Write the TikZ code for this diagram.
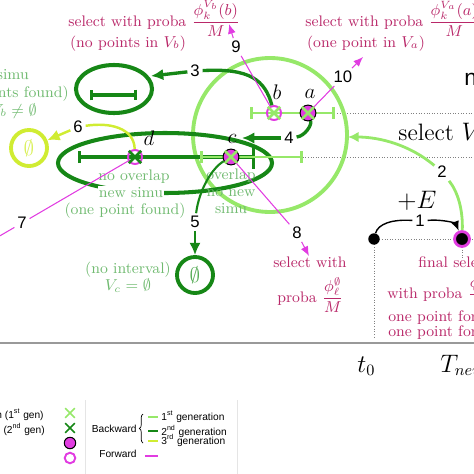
\documentclass[tikz,border=0pt]{standalone}
\usepackage{amsmath}
\usepackage{amssymb}
\usepackage{fontspec}
\newfontfamily\numfont{Liberation Sans}
\usetikzlibrary{arrows.meta,shapes.misc,decorations.pathreplacing}
\definecolor{fwd}{RGB}{225,60,225}
\definecolor{magtxt}{RGB}{185,40,105}
\definecolor{genone}{RGB}{150,232,105}
\definecolor{gentwo}{RGB}{22,135,22}
\definecolor{genthree}{RGB}{208,236,50}
\definecolor{greentxt}{RGB}{112,186,112}
\tikzset{
  gen1/.style={draw=genone,line width=1.7pt},
  gen2/.style={draw=gentwo,line width=1.9pt},
  gen3/.style={draw=genthree,line width=1.4pt},
  fwdline/.style={draw=fwd,line width=0.6pt},
  garrow/.style={>={Latex[length=7pt,width=6.5pt]},->},
  ivl/.style={arrows={Bar[width=#1]-Bar[width=#1]}},
  num/.style={font=\numfont\fontsize{9.5}{10}\selectfont,inner sep=1.5pt},
  mtext/.style={text=magtxt,font=\fontsize{8.7}{9.8}\selectfont,inner sep=0pt},
  gtext/.style={text=greentxt,font=\fontsize{8.7}{9.8}\selectfont,align=center,inner sep=0.5pt},
  ptlabel/.style={font=\fontsize{12}{14}\selectfont,inner sep=0pt},
  bigtext/.style={font=\fontsize{13.5}{16}\selectfont,inner sep=0pt,anchor=base west},
  openpt/.style={circle,draw=fwd,line width=1.1pt,minimum size=8pt,inner sep=0pt},
  fullpt/.style={circle,fill=fwd,draw=black,line width=0.6pt,minimum size=9pt,inner sep=0pt},
  xmark/.style={cross out,draw=#1,line width=1.6pt,minimum size=5.5pt,inner sep=0pt},
  nullbox/.style={circle,line width=2.2pt,minimum size=20.5pt,inner sep=0pt,font=\fontsize{13}{15}\selectfont},
  guide/.style={gray,densely dotted,line width=0.5pt},
  legend/.style={font=\numfont\fontsize{5.8}{6}\selectfont,inner sep=0pt}
}

\begin{document}
\begin{tikzpicture}[x=0.02cm,y=-0.02cm,>={Latex[length=5.5pt,width=4.5pt]}]
\useasboundingbox (0,0) rectangle (474,474);
\clip (0,0) rectangle (474,474);
\coordinate (vr) at (348,137);
\coordinate (e3) at (151,76);
\coordinate (e4) at (242,138);
\coordinate (e7) at (-40,259);
\coordinate (e8) at (309,256);
\coordinate (e9) at (229,24);
\coordinate (e10) at (363,57);

\draw[gray!80,line width=1.2pt] (0,343) -- (474,343);
\draw[guide] (300,113) -- (474,113);
\draw[guide] (300,157) -- (474,157);
\draw[guide] (374,239) -- (474,239);
\draw[guide] (374,239) -- (374,337);
\draw[guide] (462,239) -- (462,258);

\draw[gen1,line width=2.2pt] (270,135) circle (77);
\draw[gen2,line width=2.3pt] (114,89) ellipse (38 and 24);
\draw[gen2,line width=2.3pt] (165,163) ellipse (107 and 30);
\draw[gen2,ivl=6pt] (90,95) -- (137,95);
\draw[gen2,arrows={Bar[width=7pt]-Bar[width=14pt]}] (78,157) -- (255,157);
\draw[gen1,ivl=7pt] (200,157) -- (303,157);
\draw[gen1,ivl=7pt] (250,113) -- (335,113);

\node[gtext,anchor=base] (noov1) at (134,180) {no overlap};
\node[gtext,anchor=base,fill=white] (noov2) at (131,197) {new simu};
\node[gtext,anchor=base] (noov3) at (125,214) {(one point found)};
\node[gtext] (ov) at (231,191) {overlap\\no new\\simu};
\node[gtext,anchor=base east] (simub1) at (30,79) {simu};
\node[gtext,anchor=base east] (simub2) at (70,97) {(two points found)};
\node[gtext,anchor=base east] (simub3) at (38,115) {$V_b\neq\emptyset$};
\node[gtext] (noint) at (128,277) {(no interval)\\$V_c=\emptyset$};

\node[mtext,anchor=base west] (selb) at (68,26) {select with proba $\dfrac{\phi_k^{V_b}(b)}{M}$};
\node[mtext,anchor=base] (noptb) at (128,47) {(no points in $V_b$)};
\node[mtext,anchor=base west] (sela) at (305,26) {select with proba $\dfrac{\phi_k^{V_a}(a)}{M}$};
\node[mtext,anchor=base] (onepta) at (366,47) {(one point in $V_a$)};
\node[mtext,anchor=base] (selnil) at (310,267) {select with};
\node[mtext,anchor=base west] (probnil) at (277,302) {proba $\dfrac{\phi_\ell^{\emptyset}}{M}$};
\node[mtext,anchor=base west] (final) at (418,267) {final selection};
\node[mtext,anchor=base west] (finprob) at (387,298) {with proba $\dfrac{\phi_k^{V_a}(a)}{M}$};
\node[mtext,anchor=base west] (finone) at (388,321) {one point for};
\node[mtext,anchor=base west] (fintwo) at (388,336) {one point for};

\node[bigtext] (selv) at (398,140) {select $V_a$};
\node[bigtext] (plusE) at (397,208) {$+E$};
\node[bigtext] (tzero) at (357,372) {$t_0$};
\node[bigtext] (tnew) at (440,372) {$T_{new}$};
\node[bigtext,font=\numfont\fontsize{13}{15}\selectfont] (title) at (464,85) {new};

\node[fullpt] (a) at (308,113) {};
\node[openpt] (b) at (274,113) {};
\node[fullpt] (c) at (231,157) {};
\node[openpt] (d) at (135,157) {};
\node[xmark=genone] (xa) at (a) {};
\node[xmark=genone] (xb) at (b) {};
\node[xmark=genone] (xc) at (c) {};
\node[xmark=gentwo] (xd) at (d) {};
\node[circle,fill=black,minimum size=6.5pt,inner sep=0pt] (t0) at (374,239) {};
\node[circle,fill=black,draw=fwd,line width=1.6pt,minimum size=8.5pt,inner sep=0pt] (fin) at (462,239) {};
\node[ptlabel] (la) at (310,94) {$a$};
\node[ptlabel] (lb) at (277,92) {$b$};
\node[ptlabel] (lc) at (232,139) {$c$};
\node[ptlabel] (ld) at (149,138) {$d$};

\node[nullbox,draw=gentwo,text=greentxt!70!gentwo] (nilc) at (195,275) {$\emptyset$};
\node[nullbox,draw=genthree,text=genthree!80!white] (nild) at (29,148) {$\emptyset$};

\node[num] (n1) at (420,221) {1};
\node[num] (n2) at (442,172) {2};
\node[num] (n3) at (195,71) {3};
\node[num] (n4) at (289,138) {4};
\node[num] (n5) at (195,222) {5};
\node[num] (n6) at (78,127) {6};
\node[num] (n7) at (22,223) {7};
\node[num] (n8) at (297,233) {8};
\node[num] (n9) at (236,47) {9};
\node[num] (n10) at (343,77) {10};

\draw[line width=0.8pt] (t0) .. controls (378,224) and (392,219) .. (n1);
\draw[line width=0.8pt,->] (n1) .. controls (445,219) and (456,224) .. (fin);
\draw[gen1,line width=1.6pt] (fin) .. controls (463,210) and (458,192) .. (n2);
\draw[gen1,line width=1.6pt,->,>={Latex[length=6pt,width=6pt]}] (n2) .. controls (410,145) and (380,137) .. (vr);
\draw[gen2] (b) .. controls (265,80) and (250,68) .. (n3);
\draw[gen2,garrow] (n3) -- (e3);
\draw[gen2] (a) .. controls (312,125) and (305,136) .. (n4);
\draw[gen2,garrow] (n4) -- (e4);
\draw[gen2,line width=1.2pt] (c) .. controls (212,168) and (199,190) .. (n5);
\draw[gen2,line width=1.6pt,garrow] (n5) -- (nilc);
\draw[gen3] (d) .. controls (134,128) and (110,122) .. (n6);
\draw[gen3,garrow] (n6) -- (nild);
\draw[fwdline] (d) -- (n7);
\draw[fwdline,->] (n7) -- (e7);
\draw[fwdline] (c) -- (n8);
\draw[fwdline,->] (n8) -- (e8);
\draw[fwdline] (b) -- (n9);
\draw[fwdline,->] (n9) -- (e9);
\draw[fwdline] (a) -- (n10);
\draw[fwdline,->] (n10) -- (e10);

\draw[black!10] (85,400) -- (85,474);
\draw[black!10] (237,400) -- (237,474);
\node[legend,anchor=base east] (lg1) at (44,418) {selection (1\textsuperscript{st} gen)};
\node[legend,anchor=base east] (lg2) at (45,433) {selection (2\textsuperscript{nd} gen)};
\node[xmark=genone,line width=1pt,minimum size=4.5pt] (lx1) at (70,413) {};
\node[xmark=gentwo,line width=1pt,minimum size=4.5pt] (lx2) at (70,428) {};
\node[fullpt,minimum size=6.5pt] (lp1) at (70,443) {};
\node[openpt,minimum size=6pt] (lp2) at (70,458) {};
\node[legend,anchor=base east] (bw) at (137,432) {Backward};
\draw[decorate,decoration={brace,amplitude=2pt},line width=0.4pt] (143,443) -- (143,414);
\draw[genone,line width=1.2pt] (148,417) -- (158,417);
\draw[gentwo,line width=1.2pt] (148,431) -- (158,431);
\draw[genthree,line width=1.2pt] (148,441) -- (158,441);
\node[legend,anchor=base west] (g1) at (161,420) {1\textsuperscript{st} generation};
\node[legend,anchor=base west] (g2) at (161,435) {2\textsuperscript{nd} generation};
\node[legend,anchor=base west] (g3) at (161,444) {3\textsuperscript{rd} generation};
\node[legend,anchor=base east] (fw) at (137,457) {Forward};
\draw[fwd,line width=1.2pt] (145,456) -- (158,456);
\end{tikzpicture}
\end{document}
